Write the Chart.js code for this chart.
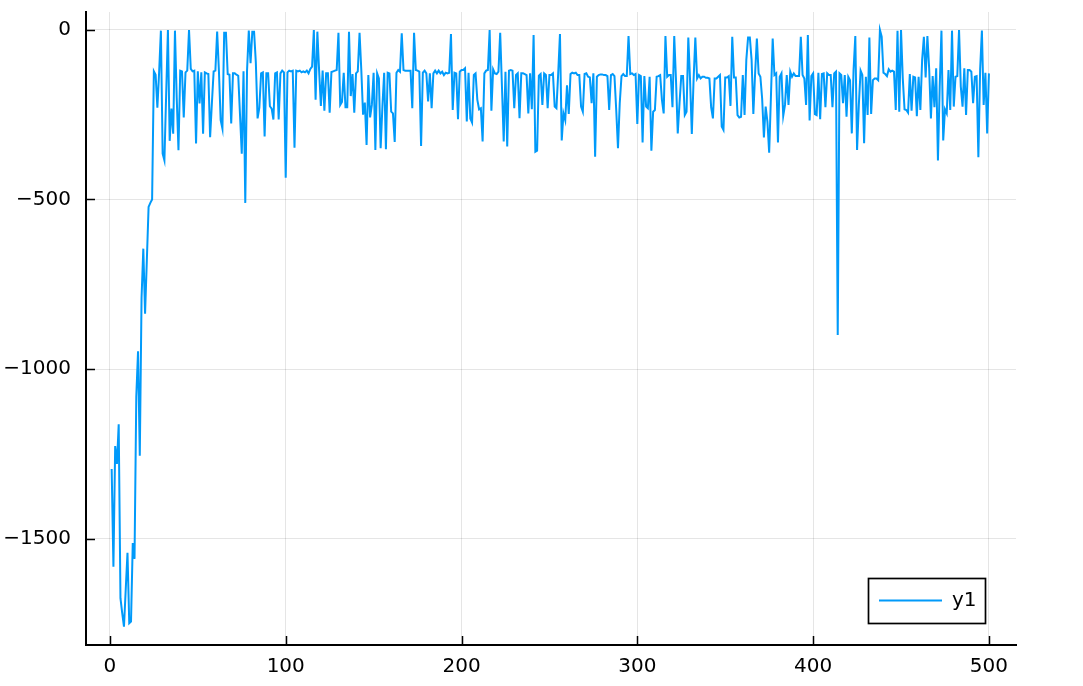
<!DOCTYPE html>
<html>
<head>
<meta charset="utf-8">
<script src="https://cdn.jsdelivr.net/npm/chart.js@4"></script>
<style>
  html, body { margin: 0; padding: 0; background: #fff; }
  #wrap { width: 1083px; height: 686px; }
</style>
</head>
<body>
<div id="wrap"><canvas id="chart" width="1083" height="686"></canvas></div>
<script>
// series y1, one value per step (step 1..500)
const y1 = [
    -1295, -1583, -1227, -1280, -1163, -1676, -1720, -1760, -1650, -1542,
    -1750, -1745, -1513, -1560, -1082, -948, -1256, -790, -645, -837,
    -680, -522, -510, -500, -122, -132, -229, -124, -2, -365,
    -385, -190, 0, -327, -232, -306, -2, -200, -355, -120,
    -122, -258, -125, -120, 0, -115, -122, -120, -335, -122,
    -217, -125, -306, -125, -128, -130, -316, -217, -122, -120,
    -5, -120, -266, -291, -8, -8, -130, -132, -276, -128,
    -128, -132, -135, -250, -365, -122, -510, -120, -2, -98,
    -5, -5, -95, -261, -229, -128, -125, -314, -128, -128,
    -225, -232, -264, -128, -125, -264, -128, -120, -125, -436,
    -125, -120, -122, -120, -347, -120, -122, -120, -125, -122,
    -125, -120, -128, -115, -108, 0, -206, -5, -120, -224,
    -120, -238, -128, -128, -244, -124, -122, -120, -118, -8,
    -221, -212, -126, -228, -228, -5, -195, -130, -244, -128,
    -122, -8, -118, -250, -214, -339, -133, -258, -221, -126,
    -354, -128, -143, -349, -226, -126, -352, -126, -128, -241,
    -246, -330, -126, -118, -123, -10, -118, -120, -120, -120,
    -120, -231, -8, -118, -120, -123, -342, -126, -120, -128,
    -211, -128, -231, -128, -120, -128, -120, -128, -123, -133,
    -126, -128, -126, -12, -236, -126, -128, -263, -123, -118,
    -118, -113, -270, -126, -261, -273, -133, -128, -206, -234,
    -231, -329, -128, -120, -118, 0, -238, -116, -128, -130,
    -123, -8, -167, -329, -123, -344, -120, -118, -120, -231,
    -133, -128, -260, -128, -128, -130, -133, -246, -128, -234,
    -15, -359, -356, -135, -130, -221, -128, -133, -231, -133,
    -133, -128, -226, -231, -128, -12, -326, -246, -266, -163,
    -248, -130, -126, -128, -126, -133, -133, -226, -241, -130,
    -128, -138, -140, -216, -128, -374, -138, -133, -131, -131,
    -133, -133, -136, -236, -133, -130, -136, -236, -349, -216,
    -136, -130, -136, -136, -18, -130, -128, -133, -130, -277,
    -133, -136, -332, -136, -226, -231, -138, -356, -241, -236,
    -138, -136, -133, -206, -246, -18, -138, -133, -133, -228,
    -18, -148, -305, -216, -136, -136, -251, -241, -22, -148,
    -307, -148, -22, -143, -133, -143, -138, -138, -141, -141,
    -143, -228, -261, -143, -143, -138, -133, -285, -295, -140,
    -140, -136, -224, -20, -140, -140, -251, -258, -256, -133,
    -251, -88, -22, -22, -88, -248, -128, -25, -128, -138,
    -202, -317, -226, -270, -362, -197, -25, -133, -128, -332,
    -138, -128, -253, -221, -133, -221, -123, -138, -128, -136,
    -136, -136, -20, -133, -143, -221, -15, -267, -136, -128,
    -248, -251, -126, -263, -130, -128, -228, -128, -133, -133,
    -228, -128, -123, -900, -128, -133, -216, -133, -256, -138,
    -148, -305, -118, -18, -354, -221, -120, -133, -334, -138,
    -251, -22, -248, -148, -143, -143, -148, 0, -20, -126,
    -130, -136, -116, -123, -120, -123, -236, -2, -241, 0,
    -143, -234, -236, -244, -130, -238, -138, -140, -254, -138,
    -236, -89, -20, -140, -18, -113, -261, -136, -228, -113,
    -385, -167, -2, -326, -234, -246, -118, -236, -2, -226,
    -138, -136, 0, -167, -226, -113, -251, -118, -118, -123,
    -216, -138, -136, -375, -116, -2, -221, -126, -305, -128
];
const steps = y1.map((_, i) => i + 1);

const xTicks = [0, 100, 200, 300, 400, 500];
const yTicks = [-1500, -1000, -500, 0];
const seriesName = 'y1';

const LINE = '#009AFA';
const FONT = { family: '"DejaVu Sans", sans-serif', size: 20 };
const fmt = v => String(v).replace('-', '\u2212');

// 白底 + 内向刻度 + 图例框
const framePlugin = {
    id: 'frame',
    beforeDraw(chart) {
        const c = chart.ctx;
        c.save();
        c.fillStyle = '#fff';
        c.fillRect(0, 0, chart.width, chart.height);
        c.restore();
    },
    afterDraw(chart) {
        const c = chart.ctx;
        const a = chart.chartArea;
        const xs = chart.scales.x, ys = chart.scales.y;
        c.save();
        c.strokeStyle = '#000';
        c.lineWidth = 1.5;
        c.beginPath();
        yTicks.forEach(v => {
            const p = Math.round(ys.getPixelForValue(v)) + 0.5;
            c.moveTo(a.left, p); c.lineTo(a.left + 9, p);
        });
        xTicks.forEach(v => {
            const p = Math.round(xs.getPixelForValue(v)) + 0.5;
            c.moveTo(p, a.bottom); c.lineTo(p, a.bottom - 9);
        });
        c.stroke();

        // legend
        const bx = a.right - 147.5, by = a.bottom - 66.5;
        c.fillStyle = '#fff';
        c.fillRect(bx, by, 117, 45);
        c.lineWidth = 1.7;
        c.strokeRect(bx, by, 117, 45);
        c.strokeStyle = LINE;
        c.lineWidth = 2;
        c.beginPath();
        c.moveTo(a.right - 137, a.bottom - 44.5);
        c.lineTo(a.right - 74, a.bottom - 44.5);
        c.stroke();
        c.fillStyle = '#000';
        c.font = FONT.size + 'px ' + FONT.family;
        c.textBaseline = 'middle';
        c.textAlign = 'left';
        c.fillText(seriesName, a.right - 64, a.bottom - 44);
        c.restore();
    }
};

new Chart(document.getElementById('chart'), {
    type: 'line',
    data: {
        datasets: [{
            label: seriesName,
            data: steps.map((x, i) => ({ x, y: y1[i] })),
            borderColor: LINE,
            borderWidth: 2,
            pointRadius: 0,
            tension: 0,
            fill: false
        }]
    },
    options: {
        responsive: false,
        animation: false,
        layout: { padding: { top: 12, right: 67, left: 0, bottom: 0 } },
        scales: {
            x: {
                type: 'linear',
                min: -13.6,
                max: 515.4,
                afterBuildTicks: s => { s.ticks = xTicks.map(v => ({ value: v })); },
                afterFit: s => { s.height = 41; s.paddingLeft = 0; s.paddingRight = 0; },
                grid: { color: 'rgba(0,0,0,0.1)', lineWidth: 1, drawTicks: false },
                border: { color: '#000', width: 2 },
                ticks: { font: FONT, color: '#000', padding: 10, autoSkip: false, maxRotation: 0, callback: fmt }
            },
            y: {
                type: 'linear',
                min: -1814,
                max: 53,
                afterBuildTicks: s => { s.ticks = yTicks.map(v => ({ value: v })); },
                afterFit: s => { s.width = 86; s.paddingTop = 0; s.paddingBottom = 0; },
                grid: { color: 'rgba(0,0,0,0.1)', lineWidth: 1, drawTicks: false },
                border: { color: '#000', width: 2 },
                ticks: { font: FONT, color: '#000', padding: 15, autoSkip: false, callback: fmt }
            }
        },
        plugins: {
            legend: { display: false },
            tooltip: { enabled: false }
        }
    },
    plugins: [framePlugin]
});
</script>
</body>
</html>
